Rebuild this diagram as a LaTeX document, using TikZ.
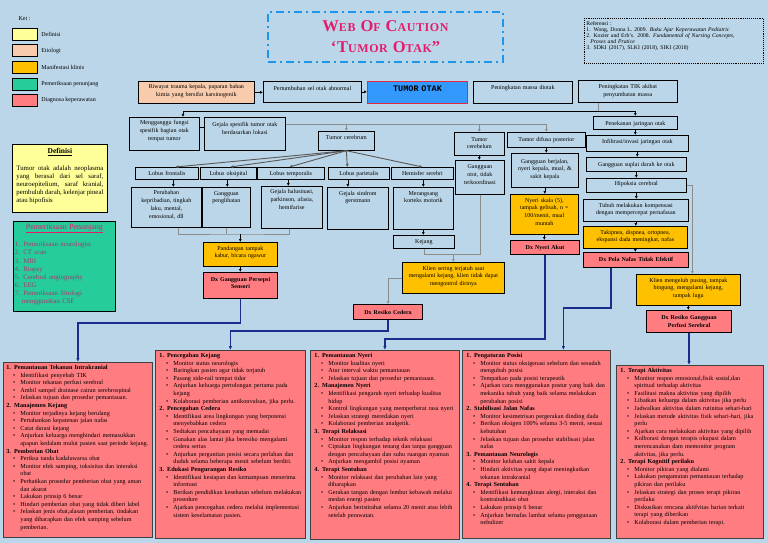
\documentclass[tikz,border=0pt]{standalone}
\usepackage{fontspec}
\setmainfont{Liberation Serif}
\newfontfamily\monob{Liberation Mono}
\newfontfamily\titlefont[LetterSpace=5]{Liberation Serif}
\usetikzlibrary{arrows.meta}

\definecolor{cbg}{RGB}{187,214,232}
\definecolor{cyel}{RGB}{255,255,153}
\definecolor{cpeach}{RGB}{248,203,173}
\definecolor{corange}{RGB}{255,192,0}
\definecolor{cteal}{RGB}{38,204,153}
\definecolor{cpink}{RGB}{255,124,128}
\definecolor{cblue}{RGB}{51,153,255}
\definecolor{cred}{RGB}{230,40,60}
\definecolor{cnavy}{RGB}{25,45,140}
\definecolor{ctitle}{RGB}{228,28,108}
\definecolor{cdash}{RGB}{30,150,235}
\definecolor{cmauve}{RGB}{170,55,115}

\newcommand{\hd}[1]{\leftskip=0pt\noindent\textbf{#1}\par}
\newcommand{\bl}[1]{\leftskip=14pt\noindent\llap{\textbullet\hspace{5pt}}#1\par}
\newcommand{\capsc}[2]{{\fontsize{16.5}{21}\selectfont#1}{\fontsize{12}{21}\selectfont#2}}
\hyphenpenalty=10000

\begin{document}
\begin{tikzpicture}[x=1pt, y=-1pt,
    bx/.style={draw, line width=0.7pt, anchor=north west, inner xsep=2pt, inner ysep=2pt, align=center, font=\fontsize{6}{8}\selectfont},
    wh/.style n args={3}{text width=#1pt, text height=#2pt, text depth=#3pt},
    cause/.style={bx, fill=cpeach},
    sign/.style={bx, fill=corange, font=\fontsize{6}{7.6}\selectfont},
    dx/.style={bx, fill=cpink, line width=1.1pt, font=\fontsize{6}{7}\selectfont\bfseries},
    plan/.style={draw=black!75, line width=0.8pt, fill=cpink, anchor=north west, inner xsep=4pt, inner ysep=2pt, align=left, text height=5pt, font=\fontsize{6.2}{7.6}\selectfont},
    keybox/.style={draw, line width=0.8pt, anchor=north west, minimum width=25pt, minimum height=12pt, inner sep=0pt},
    arr/.style={-{Latex[length=3pt,width=3pt]}, line width=0.6pt},
    gry/.style={draw=black!45, line width=0.7pt},
    fan/.style={draw=black!65, line width=0.9pt, -{Latex[length=3pt,width=3pt]}},
    blu/.style={draw=cnavy, line width=1.3pt, -{Latex[length=4pt,width=3.5pt]}}
]
\useasboundingbox (0,0) rectangle (768,543);
\fill[cbg] (0,0) rectangle (768,543);

\node[anchor=west, font=\fontsize{6}{7}\selectfont] (ket) at (15,19) {Ket :};
\foreach \c/\t [count=\i] in {cyel/Definisi, cpeach/Etiologi, corange/Manifestasi klinis, cteal/Pemeriksaan penunjang, cpink/Diagnosa keperawatan}{
    \node[keybox, fill=\c] (key\i) at (12,11.5+16.5*\i) {};
    \node[anchor=west, font=\fontsize{6}{7}\selectfont] (lab\i) at (key\i.east) {\t};
}

\node[draw=cdash, line width=2pt, dash pattern=on 8pt off 4pt on 2pt off 4pt, minimum width=235pt, minimum height=50pt, align=center, text=ctitle, font=\titlefont\fontsize{16.5}{21}\selectfont\bfseries] (title) at (385.5,37)
    {\capsc{W}{EB} \capsc{O}{F} \capsc{C}{AUTION}\\‘\capsc{T}{UMOR} \capsc{O}{TAK}”};

\node[draw, densely dotted, line width=0.9pt, anchor=north west, inner xsep=2pt, inner ysep=2pt, text width=175pt, text height=5pt, text depth=36pt, align=left, font=\fontsize{5.7}{5.9}\selectfont] (refs) at (584,18)
    {Referensi :\\1. Wong, Donna L. 2009. \textit{Buku Ajar Keperawatan Pediatric}\\2. Kozier and Erb's. 2008. \textit{Fundamental of Nursing Concepts,}\\\hspace*{4pt}\textit{Proses and Pratice}\\3. SDKI (2017), SLKI (2018), SIKI (2018)};

\node[draw, line width=0.8pt, fill=cyel, anchor=north west, inner xsep=4pt, inner ysep=3pt, text width=87pt, text height=6pt, text depth=56pt, align=justify, font=\fontsize{6.8}{8}\selectfont] (definisi) at (12,144)
    {{\centering\fontsize{7.5}{8}\selectfont\bfseries\underline{Definisi}\par}\vspace{9pt}Tumor otak adalah neoplasma yang berasal dari sel saraf, neuroepitelium, saraf kranial, pembuluh darah, kelenjar pineal atau hipofisis};

\node[draw, line width=0.8pt, fill=cteal, anchor=north west, inner xsep=1.5pt, inner ysep=3pt, text width=99pt, text height=5pt, text depth=79pt, align=left, font=\fontsize{6.8}{8.1}\selectfont] (penunjang) at (13,221)
    {{\centering\fontsize{8}{8}\selectfont\color{ctitle}\underline{Pemeriksaan Penunjang}\par}\vspace{8pt}\color{cmauve}1. Pemeriksaan neurologist\\2. CT scan\\3. MRI\\4. Biopsy\\5. Cerebral angiography\\6. EEG\\7. Pemeriksaan Sitologi\\\hspace*{7pt}menggunakan CSF};

\node[cause, wh={112}{5}{13}] (riwayat) at (138,81) {Riwayat trauma kepala, paparan bahan\\kimia yang bersifat karsinogenik};
\node[bx, wh={94}{7}{10}] (pertumb) at (263,81) {Pertumbuhan sel otak abnormal};
\node[bx, wh={96}{8}{10}, fill=cblue, draw=cred, line width=1pt, font=\monob\fontsize{8.5}{9}\selectfont\bfseries] (tumor) at (367,81) {TUMOR OTAK};
\node[bx, wh={95}{6}{12}] (massa) at (473,81) {Peningkatan massa diotak};
\node[bx, wh={95}{6}{12}] (tik) at (578,80) {Peningkatan TIK akibat\\penyumbatan massa};

\node[bx, wh={66}{5}{24}] (ganggu) at (129,117) {Mengganggu fungsi\\spesifik bagian otak\\tempat tumor};
\node[bx, wh={77}{7}{22}] (gejala) at (204,117) {Gejala spesifik tumor otak\\berdasarkan lokasi};
\node[bx, wh={52}{6}{9}] (cerebrum) at (318,131) {Tumor cerebrum};
\node[bx, wh={46}{7}{12}, font=\fontsize{6}{7.5}\selectfont] (cerebelum) at (454,132) {Tumor\\cerebelum};
\node[bx, wh={74}{7}{4}] (difusa) at (507,132) {Tumor difusa posterior};

\node[bx, wh={59}{6}{2}] (frontalis) at (135,167) {Lobus frontalis};
\node[bx, wh={52}{6}{2}] (oksipital) at (200,167) {Lobus oksipital};
\node[bx, wh={63}{6}{2}] (temporalis) at (257,167) {Lobus temporalis};
\node[bx, wh={57}{6}{2}] (parietalis) at (328,167) {Lobus parietalis};
\node[bx, wh={58}{6}{2}] (hemisfer) at (391,167) {Hemisfer serebri};

\node[bx, wh={66}{5}{31}] (perubahan) at (131,187) {Perubahan\\kepribadian, tingkah\\laku, mental,\\emosional, dll};
\node[bx, wh={44}{6}{30}, font=\fontsize{6}{7.5}\selectfont] (penglihatan) at (202,187) {Gangguan\\penglihatan};
\node[bx, wh={57}{5}{33}] (halusinasi) at (261,186) {Gejala halusinasi,\\parkinson, afasia,\\hemifarise};
\node[bx, wh={57}{6}{32}, font=\fontsize{6}{7.5}\selectfont] (gerstmann) at (327,187) {Gejala sindrom\\gerstmann};
\node[bx, wh={56}{6}{32}, font=\fontsize{6}{7.5}\selectfont] (merangsang) at (393,187) {Merangsang\\korteks motorik};
\node[bx, wh={45}{6}{24}] (otot) at (455,160) {Gangguan\\otot, tidak\\terkoordinasi};
\node[bx, wh={63}{8}{22}, font=\fontsize{6}{7.6}\selectfont] (berjalan) at (511,153) {Gangguan berjalan,\\nyeri kepala, mual, \&\\sakit kepala};
\node[sign, wh={64}{6}{30}] (nyeriskala) at (510,194) {Nyeri skala (5),\\tampak gelisah, n =\\100/menit, mual\\muntah};
\node[dx, wh={65}{7}{3}] (dxnyeri) at (510,240) {Dx Nyeri Akut};

\node[bx, wh={80}{7}{2}] (penekanan) at (593,116) {Penekanan jaringan otak};
\node[bx, wh={98}{6}{6}] (infiltrasi) at (586,135) {Infiltrasi/invasi jaringan otak};
\node[bx, wh={96}{7}{3}] (suplai) at (586,157) {Gangguan suplai darah ke otak};
\node[bx, wh={96}{5}{5}] (hipoksia) at (586,178) {Hipoksia cerebral};
\node[bx, wh={101}{6}{12}, font=\fontsize{6}{7.5}\selectfont] (tubuh) at (583,199) {Tubuh melakukan kompensasi\\dengan mempercepat pernafasan};
\node[sign, wh={100}{6}{12}] (takipnea) at (583,226) {Takipnea, dispnea, ortopnea,\\ekspansi dada meningkat, nafas};
\node[dx, wh={101}{7}{4}] (dxpola) at (583,252) {Dx Pola Nafas Tidak Efektif};
\node[sign, wh={100}{6}{21}] (mengeluh) at (636,274) {Klien mengeluh pusing, tampak\\bingung, mengalami kejang,\\tampak lugu};
\node[dx, wh={81}{7}{11}, font=\fontsize{6}{8}\selectfont\bfseries] (dxperfusi) at (646,310) {Dx Resiko Gangguan\\Perfusi Serebral};

\node[bx, wh={57}{6}{3}] (kejang) at (393,235) {Kejang};
\node[sign, wh={98}{6}{21}] (terjatuh) at (402,262) {Klien sering terjatuh saat\\mengalami kejang, klien tidak dapat\\mengontrol dirinya};
\node[dx, wh={65}{8}{3}] (dxcedera) at (353,304) {Dx Resiko Cedera};
\node[sign, wh={70}{6}{14}] (pandangan) at (203,242) {Pandangan tampak\\kabur, bicara ngawur};
\node[dx, wh={70}{7}{15}] (dxpersepsi) at (203,272) {Dx Gangguan Persepsi\\Sensori};

\node[plan, inner xsep=3pt, text width=143pt, text depth=166pt] (box1) at (3,362) {%
\hd{1. Pemantauan Tekanan Intrakranial}
\bl{Identifikasi penyebab TIK}
\bl{Monitor tekanan perfusi serebral}
\bl{Ambil sampel drainase cairan serebrospinal}
\bl{Jelaskan tujuan dan prosedur pemantauan.}
\hd{2. Manajemen Kejang}
\bl{Monitor terjadinya kejang berulang}
\bl{Pertahankan kepatenan jalan nafas}
\bl{Catat durasi kejang}
\bl{Anjurkan keluarga menghindari memasukkan apapun kedalam mulut pasien saat periode kejang.}
\hd{3. Pemberian Obat}
\bl{Periksa tanda kadaluwarsa obat}
\bl{Monitor efek samping, toksisitas dan interaksi obat}
\bl{Perhatikan prosedur pemberian obat yang aman dan akurat}
\bl{Lakukan prinsip 6 benar}
\bl{Hindari pemberian obat yang tidak diberi label}
\bl{Jelaskan jenis obat,alasan pemberian, tindakan yang diharapkan dan efek samping sebelum pemberian.}};

\node[plan, text width=142pt, text depth=179pt] (box2) at (155,350) {%
\hd{1. Pencegahan Kejang}
\bl{Monitor status neurologis}
\bl{Baringkan pasien agar tidak terjatuh}
\bl{Pasang side-rail tempat tidur}
\bl{Anjurkan keluarga pertolongan pertama pada kejang}
\bl{Kolaborasi pemberian antikonvulsan, jika perlu.}
\hd{2. Pencegahan Cedera}
\bl{Identifikasi area lingkungan yang berpotensi menyebabkan cedera}
\bl{Sediakan pencahayaan yang memadai}
\bl{Gunakan alas lantai jika beresiko mengalami cedera serius}
\bl{Anjurkan pergantian posisi secara perlahan dan duduk selama beberapa menit sebelum berdiri.}
\hd{3. Edukasi Pengurangan Resiko}
\bl{Identifikasi kesiapan dan kemampuan menerima informasi}
\bl{Berikan pendidikan kesehatan sebelum melakukan prosedure}
\bl{Ajarkan pencegahan cedera melalui implementasi sistem keselamatan pasien.}};

\node[plan, text width=141pt, text depth=180pt] (box3) at (310,350) {%
\hd{1. Pemantauan Nyeri}
\bl{Monitor kualitas nyeri}
\bl{Atur interval waktu pemantauan}
\bl{Jelaskan tujuan dan prosedur pemantauan.}
\hd{2. Manajemen Nyeri}
\bl{Identifikasi pengaruh nyeri terhadap kualitas hidup}
\bl{Kontrol lingkungan yang memperberat rasa nyeri}
\bl{Jelaskan strategi meredakan nyeri}
\bl{Kolaborasi pemberian analgetik.}
\hd{3. Terapi Relaksasi}
\bl{Monitor respon terhadap teknik relaksasi}
\bl{Ciptakan lingkungan tenang dan tanpa gangguan dengan pencahayaan dan suhu ruangan nyaman}
\bl{Anjurkan mengambil posisi nyaman}
\hd{4. Terapi Sentuhan}
\bl{Monitor relaksasi dan perubahan lain yang diharapkan}
\bl{Gerakan tangan dengan lembut kebawah melalui medan energi pasien}
\bl{Anjurkan beristirahat selama 20 menit atau lebih setelah perawatan.}};

\node[plan, text width=140pt, text depth=179pt] (box4) at (462,350) {%
\hd{1. Pengaturan Posisi}
\bl{Monitor status oksigenasi sebelum dan sesudah mengubah posisi}
\bl{Tempatkan pada posisi terapeutik}
\bl{Ajarkan cara menggunakan postur yang baik dan mekanika tubuh yang baik selama melakukan perubahan posisi}
\hd{2. Stabilisasi Jalan Nafas}
\bl{Monitor kesimetrisan pergerakan dinding dada}
\bl{Berikan oksigen 100\% selama 3-5 menit, sesuai kebutuhan}
\bl{Jelaskan tujuan dan prosedur stabilisasi jalan nafas}
\hd{3. Pemantauan Neurologis}
\bl{Monitor keluhan sakit kepala}
\bl{Hindari aktivitas yang dapat meningkatkan tekanan intrakranial}
\hd{4. Terapi Sentuhan}
\bl{Identifikasi kemungkinan alergi, interaksi dan kontraindikasi obat}
\bl{Lakukan prinsip 6 benar}
\bl{Anjurkan bernafas lambat selama penggunaan nebulizer}};

\node[plan, text width=139pt, text depth=164pt] (box5) at (616,365) {%
\hd{1. Terapi Aktivitas}
\bl{Monitor respon emosional,fisik sosial,dan spiritual terhadap aktivitas}
\bl{Fasilitasi makna aktivitas yang dipilih}
\bl{Libatkan keluarga dalam aktivitas jika perlu}
\bl{Jadwalkan aktivitas dalam rutinitas sehari-hari}
\bl{Jelaskan metode aktivitas fisik sehari-hari, jika perlu}
\bl{Ajarkan cara melakukan aktivitas yang dipilih}
\bl{Kolborasi dengan terapis okupasi dalam merencanakan dam memonitor program aktivitas, jika perlu.}
\hd{2. Terapi Kognitif perilaku}
\bl{Monitor pikiran yang dialami}
\bl{Lakukan pengamatan pemantauan terhadap pikiran dan perilaku}
\bl{Jelaskan strategi dan proses terapi pikiran perilaku}
\bl{Diskusikan rencana aktifvitas harian terkait terapi yang diberikan}
\bl{Kolaborasi dalam pemberian terapi.}};

\draw[arr] (riwayat.east) -- (riwayat.east -| pertumb.west);
\draw[arr] (pertumb.east) -- (pertumb.east -| tumor.west);
\coordinate (bar) at (183,111);
\draw[gry] ([xshift=-29.5pt]tik.south) -- ([xshift=-29.5pt]tik.south |- bar);
\draw[arr, line width=0.9pt] (bar) -| (penekanan.north);
\draw[arr] (bar) -- (bar |- ganggu.north);
\draw[line width=0.7pt] ([yshift=7pt]ganggu.east) -- ([yshift=7pt]ganggu.east -| gejala.west);

\coordinate (lok) at ([yshift=10pt]gejala.east);
\draw[gry, arr] (lok) -| (difusa.north);
\draw[gry, arr] (lok -| cerebrum.north) -- (cerebrum.north);
\draw[gry, arr] (lok -| cerebelum.north) -- (cerebelum.north);

\foreach \n/\s in {frontalis/8.5, oksipital/2, temporalis/-1.5, parietalis/-11.5, hemisfer/0}
    \draw[fan] (cerebrum.south) -- ([xshift=\s pt]\n.north);
\foreach \a/\b/\s in {frontalis/perubahan/6.5, oksipital/penglihatan/-1, temporalis/halusinasi/-2.5, parietalis/gerstmann/-11, hemisfer/merangsang/1}
    \draw[arr] ([xshift=\s pt]\a.south) -- ([xshift=\s pt]\a.south |- \b.north);

\coordinate (vis) at ([yshift=8pt]pandangan.north);
\draw[gry] ([xshift=12pt]perubahan.south) |- (vis) -| ([xshift=-2.5pt]halusinasi.south);
\draw[gry] (penglihatan.south) -- (penglihatan.south |- vis);
\draw[arr] (vis) -- (pandangan.north);

\foreach \a/\b in {cerebelum/otot, difusa/berjalan, berjalan/nyeriskala, nyeriskala/dxnyeri, penekanan/infiltrasi, infiltrasi/suplai, suplai/hipoksia, hipoksia/tubuh, tubuh/takipnea, takipnea/dxpola, merangsang/kejang, pandangan/dxpersepsi, mengeluh/dxperfusi}
    \draw[arr] (\a.south) -- (\a.south |- \b.north);

\draw[gry, arr] (kejang.south) -- ++(0,6) -| (terjatuh.north);
\draw[gry] (otot.south) |- ([yshift=8pt]terjatuh.north);
\draw[gry, arr] (terjatuh.west) -| (dxcedera.north);
\draw[gry, arr] (hipoksia.east) -| ([xshift=4pt]mengeluh.north);

\draw[blu] (dxpersepsi.south) -- ++(0,24) -| (box1.north);
\draw[blu] (dxcedera.south) -- ++(0,11) -| (box2.north);
\draw[blu] (dxnyeri.south) -- ++(0,84) -| (box3.north);
\draw[blu] ([xshift=-25pt]dxpola.south) -- ++(0,40) -| ([xshift=27pt]box4.north);
\draw[blu] (dxperfusi.south) -- (dxperfusi.south |- box5.north);
\end{tikzpicture}
\end{document}
